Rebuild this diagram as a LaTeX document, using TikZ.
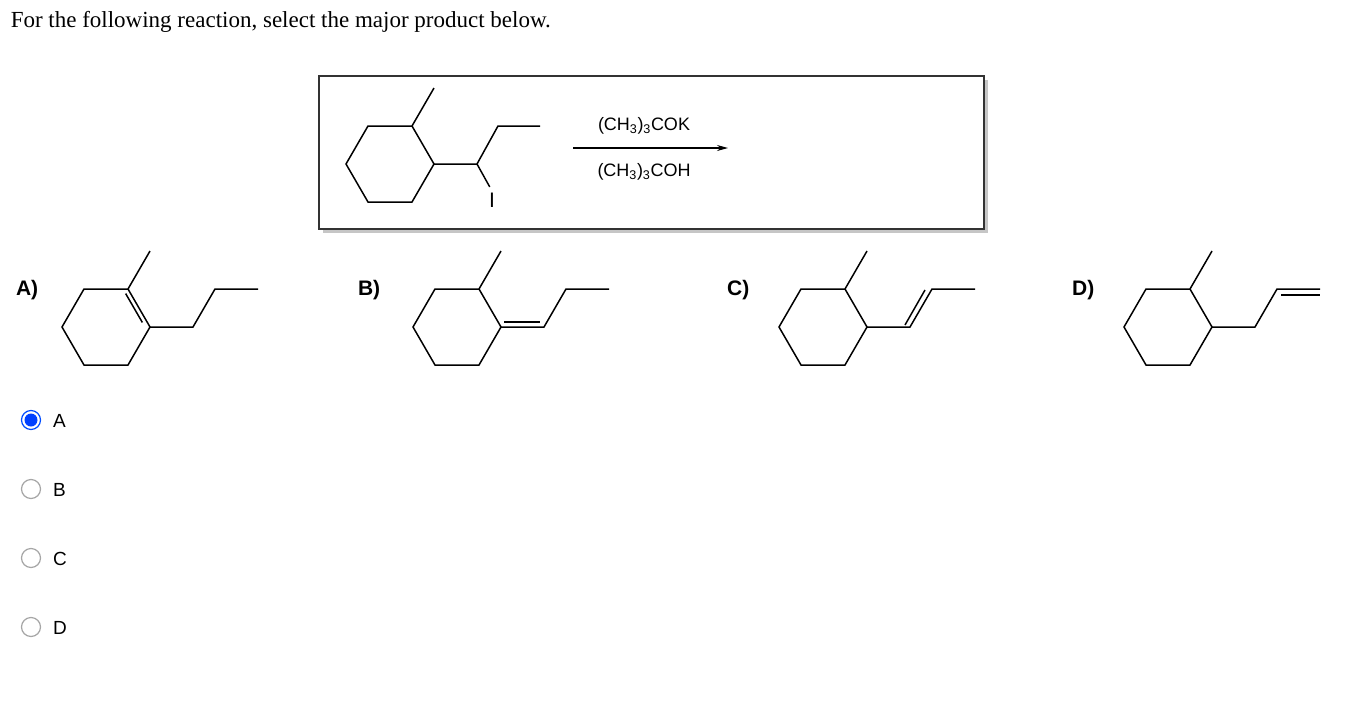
\documentclass[tikz,border=0pt]{standalone}
\usepackage{fontspec}
\setmainfont{Liberation Serif}
\setsansfont{Liberation Sans}
\usetikzlibrary{calc,arrows.meta}
\begin{document}
\begin{tikzpicture}[x=1pt,y=-1pt,line width=1.5pt,
  bond/.style={line width=1.5pt,line join=miter},
  optlab/.style={font=\sffamily\bfseries\fontsize{21}{24}\selectfont,anchor=west},
  radio/.style={circle,draw=gray!70,line width=1.2pt,minimum size=19pt,inner sep=0pt},
  radiolab/.style={font=\sffamily\fontsize{19}{22}\selectfont,anchor=west},
  reag/.style={font=\sffamily\fontsize{18}{21}\selectfont}]
\useasboundingbox (0,0) rectangle (1350,726);
\fill[white] (0,0) rectangle (1350,726);
\node[anchor=west,font=\fontsize{23}{26}\selectfont,inner sep=0pt] (title) at (10,22) {For the following reaction, select the major product below.};
% box
\fill[gray!45] (323,80) rectangle (988,233);
\node[draw=black!80,fill=white,line width=1.5pt,minimum width=665pt,minimum height=153pt,anchor=north west,inner sep=0pt] (box) at (318,75) {};
\newcommand{\hexring}[3]{%
 \coordinate (#3tl) at (#1-22,#2-38); \coordinate (#3tr) at (#1+22,#2-38);
 \coordinate (#3r) at (#1+44,#2); \coordinate (#3br) at (#1+22,#2+38);
 \coordinate (#3bl) at (#1-22,#2+38); \coordinate (#3l) at (#1-44,#2);
 \draw[bond] (#3tl)--(#3tr)--(#3r)--(#3br)--(#3bl)--(#3l)--cycle;
 \coordinate (#3me) at (#1+44,#2-76);
 \draw[bond] (#3tr)--(#3me);}
% reactant
\hexring{390}{164}{s}
\coordinate (sch) at (477,164);
\coordinate (sd) at (498,126); \coordinate (sc) at (540,126);
\draw[bond] (sr)--(sch)--(sd)--(sc);
\node[reag,inner sep=1pt,anchor=north,font=\sffamily\fontsize{21}{24}\selectfont] (iod) at (492,191) {I};
\draw[bond] (sch)--($(sch)!0.85!(492,191)$);
\coordinate (ar1) at (573,148); \coordinate (ar2) at (728,148);
\draw[line width=1.2pt,-{Stealth[length=11pt,width=6pt]}] (ar1)--(ar2);
\node[reag] (r1) at (644,126) {(CH\textsubscript{3})\textsubscript{3}COK};
\node[reag] (r2) at (644,172) {(CH\textsubscript{3})\textsubscript{3}COH};
% A
\hexring{106}{327}{a}
\coordinate (a1) at (193,327); \coordinate (a2) at (215,289); \coordinate (a3) at (258,289);
\draw[bond] (ar)--(a1)--(a2)--(a3);
\draw[bond] ($(atr)!0.12!(ar)+(-5,0)$) -- ($(atr)!0.88!(ar)+(-5,0)$);
% B
\hexring{457}{327}{b}
\coordinate (b1) at (544,327); \coordinate (b2) at (566,289); \coordinate (b3) at (609,289);
\draw[bond] (br)--(b1)--(b2)--(b3);
\draw[bond] (504,322)--(540,322);
% C
\hexring{823}{327}{c}
\coordinate (c1) at (910,327); \coordinate (c2) at (932,289); \coordinate (c3) at (975,289);
\draw[bond] (cr)--(c1)--(c2)--(c3);
\draw[bond] (905,325)--(925,290);
% D
\hexring{1168}{327}{d}
\coordinate (d1) at (1255,327); \coordinate (d2) at (1277,289); \coordinate (d3) at (1320,289);
\draw[bond] (dr)--(d1)--(d2)--(d3);
\draw[bond] (1281,295)--(1320,295);
\node[optlab] (la) at (12,290) {A)};
\node[optlab] (lb) at (354,290) {B)};
\node[optlab] (lc) at (723,290) {C)};
\node[optlab] (ld) at (1068,290) {D)};
% radios
\node[radio,draw=blue!70!cyan,fill=white] (o1) at (31,420) {};
\fill[blue!75!cyan] (o1) circle (6.5);
\node[radio] (o2) at (31,489) {};
\node[radio] (o3) at (31,558) {};
\node[radio] (o4) at (31,627) {};
\node[radiolab] at (49,421) {A};
\node[radiolab] at (49,490) {B};
\node[radiolab] at (49,559) {C};
\node[radiolab] at (49,628) {D};
\end{tikzpicture}
\end{document}
